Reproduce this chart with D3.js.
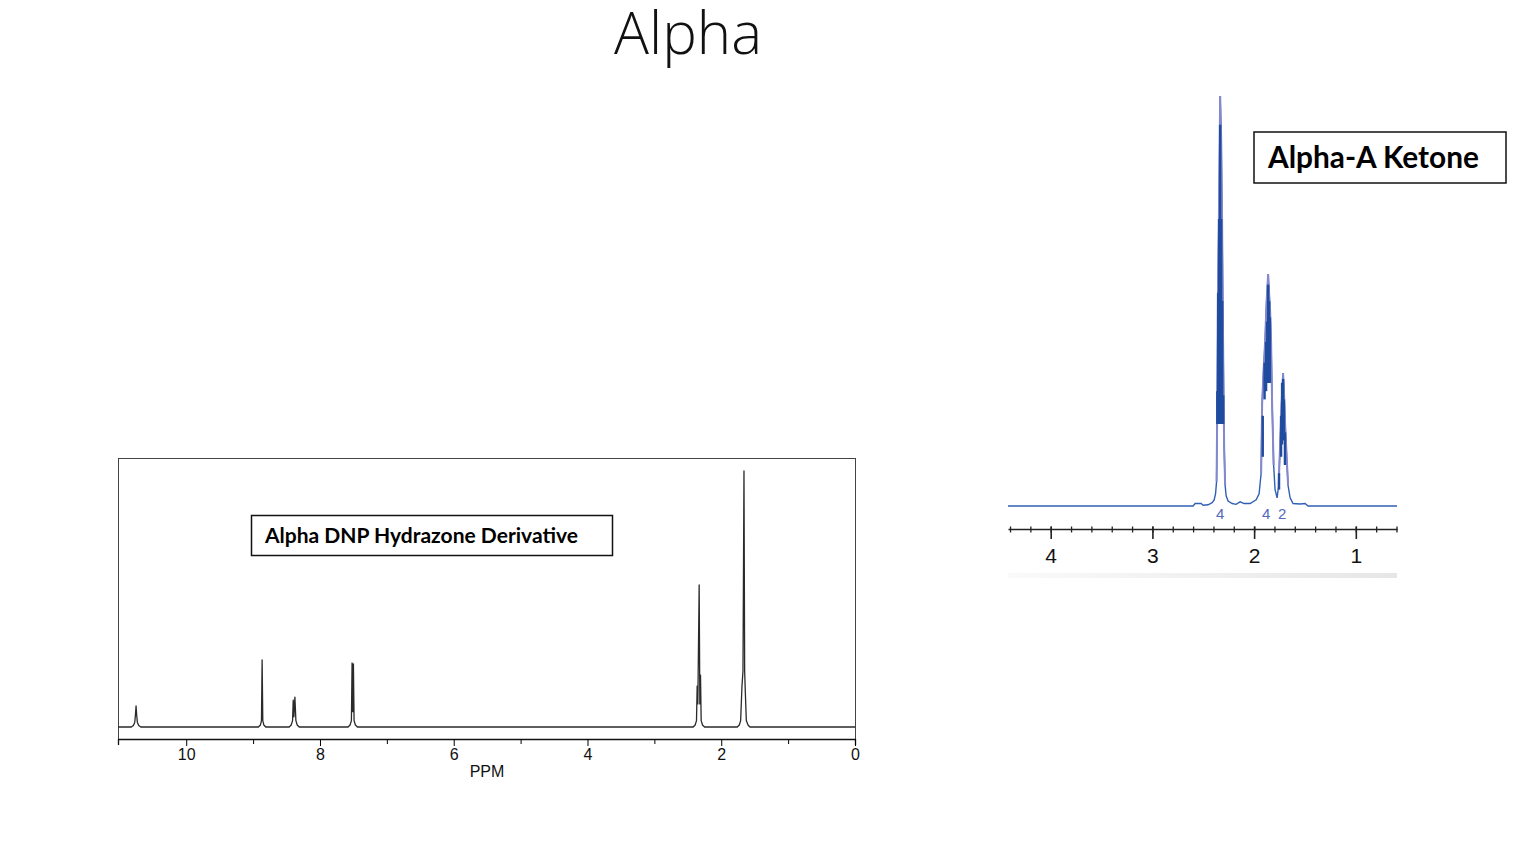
<!DOCTYPE html>
<html>
<head>
<meta charset="utf-8">
<script src="https://d3js.org/d3.v7.min.js"></script>
<style>
    body { margin: 0; background: #fff; }
    svg { display: block; }
    .num { font-family: "Liberation Sans", Arial, sans-serif; }
    .lbl { font-family: Lato, "Open Sans", sans-serif; font-weight: 700; }
</style>
</head>
<body>
<script>
    // ---- left spectrum: DNP hydrazone derivative, [ppm, relative intensity] ----
    const dnpTrace = [
        [11.02, 0],
        [10.82, 0], [10.79, 0.6], [10.77, 1.8], [10.76, 4.5], [10.75, 8.2], [10.74, 4.5], [10.73, 1.8], [10.71, 0.6], [10.68, 0],
        [8.92, 0], [8.89, 0.8], [8.875, 2.5], [8.865, 26.2], [8.855, 2.5], [8.84, 0.8], [8.81, 0],
        [8.46, 0], [8.43, 0.8], [8.41, 2.5], [8.40, 10.5], [8.39, 4], [8.375, 11.7], [8.36, 2.5], [8.34, 0.8], [8.31, 0],
        [7.58, 0], [7.55, 0.8], [7.53, 2.5], [7.52, 25], [7.51, 6], [7.50, 24.6], [7.49, 2.5], [7.47, 0.8], [7.44, 0],
        [2.42, 0], [2.39, 0.8], [2.37, 2.5], [2.36, 16], [2.35, 9], [2.33, 55.5], [2.32, 9], [2.31, 20.3], [2.30, 2.5], [2.28, 0.8], [2.25, 0],
        [1.76, 0], [1.73, 0.8], [1.71, 2.5], [1.69, 16], [1.675, 21.9], [1.66, 100], [1.65, 21.9], [1.64, 13.7], [1.625, 2.5], [1.60, 0.8], [1.57, 0],
        [0, 0]
    ]
    const dnpMajorTicks = [10, 8, 6, 4, 2, 0]
    const dnpMinorTicks = [9, 7, 5, 3, 1]

    // ---- right spectrum: alpha-A ketone, [ppm, relative intensity] ----
    const ketoneTrace = [
        [4.42, 0], [2.60, 0], [2.58, 0.6], [2.521, 0.6], [2.501, 0.2], [2.452, 0.3], [2.413, 0.8], [2.393, 1.5],
        [2.379, 3], [2.369, 6], [2.364, 20], [2.354, 55], [2.344, 75], [2.334, 100], [2.324, 90], [2.315, 70],
        [2.305, 40], [2.295, 15], [2.285, 5], [2.275, 2.5], [2.256, 1.2], [2.216, 0.6], [2.177, 0.4], [2.138, 1],
        [2.098, 0.6], [2.039, 0.6], [1.980, 1.5], [1.951, 3], [1.931, 8], [1.921, 25], [1.907, 33], [1.892, 40],
        [1.877, 50], [1.862, 56.6], [1.853, 52], [1.843, 48], [1.833, 40], [1.823, 25], [1.808, 10], [1.794, 4],
        [1.774, 2], [1.759, 5], [1.744, 15], [1.730, 25], [1.715, 32.4], [1.705, 27], [1.695, 20], [1.680, 12],
        [1.666, 5], [1.646, 2], [1.617, 0.6], [1.548, 0.5], [1.499, 0.6], [1.469, 0], [0.595, 0]
    ]
    // multiplet lines inside the envelopes: [ppm, low, high]
    const ketoneLines = [
        [2.334, 20, 93], [2.344, 20, 70], [2.324, 20, 70], [2.354, 20, 52], [2.314, 20, 50], [2.362, 20, 28], [2.304, 20, 27],
        [1.862, 30, 54], [1.853, 30, 50], [1.845, 30, 46], [1.872, 32, 45], [1.882, 28, 40], [1.897, 26, 35], [1.915, 12, 22],
        [1.725, 15, 30], [1.715, 16, 31], [1.707, 18, 26], [1.735, 12, 22], [1.697, 10, 18], [1.755, 4, 8]
    ]
    const ketoneMajorTicks = [4, 3, 2, 1]
    const ketoneMinorTicks = d3.range(6, 45, 2).map(d => d / 10)
    const integralPpm = [2.334, 1.882, 1.725]
    const integralText = ['4', '4', '2']

    const W = 1532, H = 848

    const svg = d3.select('body').append('svg')
        .attr('width', W)
        .attr('height', H)

    function fitText(sel, width) {
        const w = sel.node().getComputedTextLength()
        const fs = parseFloat(sel.style('font-size'))
        sel.style('font-size', (fs * width / w) + 'px')
    }

    // title
    const title = svg.append('text')
        .attr('x', 614)
        .attr('y', 54)
        .style('font-family', '"Open Sans", Lato, sans-serif')
        .style('font-weight', 300)
        .style('font-size', '58px')
        .style('fill', '#111')
        .text('Alpha')
    fitText(title, 148)

    // ================= left chart =================
    const xL = d3.scaleLinear().domain([11.02, 0]).range([118, 855])
    const yL = d3.scaleLinear().domain([0, 100]).range([727, 471])
    const axisYL = 739

    svg.append('rect')
        .attr('x', 118.5)
        .attr('y', 458.5)
        .attr('width', 737)
        .attr('height', axisYL - 458)
        .attr('fill', 'none')
        .attr('stroke', '#444')
        .attr('stroke-width', 1)

    svg.append('g')
        .attr('class', 'num')
        .attr('transform', 'translate(0,' + axisYL + ')')
        .call(d3.axisBottom(xL).tickValues(dnpMinorTicks).tickSize(5).tickSizeOuter(0).tickFormat(''))
        .call(g => g.select('.domain').remove())

    const axL = svg.append('g')
        .attr('class', 'num')
        .attr('transform', 'translate(0,' + axisYL + ')')
        .call(d3.axisBottom(xL).tickValues(dnpMajorTicks).tickSize(7).tickSizeOuter(6).tickPadding(3).tickFormat(d3.format('d')))
    axL.selectAll('text').style('font-size', '16px').style('fill', '#111')
    axL.select('.domain').attr('stroke', '#111').attr('stroke-width', 1.3)

    svg.append('text')
        .attr('class', 'num')
        .attr('x', 487)
        .attr('y', 777)
        .attr('text-anchor', 'middle')
        .style('font-size', '16px')
        .style('fill', '#111')
        .text('PPM')

    svg.append('path')
        .datum(dnpTrace)
        .attr('fill', 'none')
        .attr('stroke', '#2a2a2a')
        .attr('stroke-width', 1.3)
        .attr('stroke-linejoin', 'round')
        .attr('d', d3.line().x(d => xL(d[0])).y(d => yL(d[1])))

    svg.append('rect')
        .attr('x', 251.5).attr('y', 515.5)
        .attr('width', 361).attr('height', 40)
        .attr('fill', '#fff').attr('stroke', '#111').attr('stroke-width', 1.5)
    const lblL = svg.append('text')
        .attr('class', 'lbl')
        .attr('x', 265)
        .attr('y', 543)
        .style('font-size', '19px')
        .text('Alpha DNP Hydrazone Derivative')
    fitText(lblL, 313)

    // ================= right chart =================
    const xR = d3.scaleLinear().domain([4.42, 0.595]).range([1008, 1397])
    const yR = d3.scaleLinear().domain([0, 100]).range([506, 96])
    const axisYR = 529

    const grad = svg.append('defs').append('linearGradient').attr('id', 'fade')
    grad.append('stop').attr('offset', '0%').attr('stop-color', '#fafafa')
    grad.append('stop').attr('offset', '100%').attr('stop-color', '#e6e6e6')
    svg.append('rect')
        .attr('x', 1008).attr('y', 573)
        .attr('width', 389).attr('height', 5)
        .attr('fill', 'url(#fade)')

    const lineR = d3.line().x(d => xR(d[0])).y(d => yR(d[1]))

    svg.append('path')
        .datum(ketoneTrace)
        .attr('fill', 'none')
        .attr('stroke', '#3060b4')
        .attr('stroke-width', 1.4)
        .attr('d', lineR)

    svg.append('path')
        .datum(ketoneTrace)
        .attr('fill', 'none')
        .attr('stroke', '#8488cc')
        .attr('stroke-width', 2)
        .attr('d', lineR.defined(d => d[1] > 4))

    svg.selectAll('.mult')
        .data(ketoneLines)
        .enter()
        .append('line')
        .attr('class', 'mult')
        .attr('x1', d => xR(d[0]))
        .attr('x2', d => xR(d[0]))
        .attr('y1', d => yR(d[1]))
        .attr('y2', d => yR(d[2]))
        .attr('stroke', '#1f4c9f')
        .attr('stroke-width', 2.4)

    svg.selectAll('.integral')
        .data(integralPpm)
        .enter()
        .append('text')
        .attr('class', 'num integral')
        .attr('x', d => xR(d))
        .attr('y', 519)
        .attr('text-anchor', 'middle')
        .style('font-size', '15px')
        .style('fill', '#5468bd')
        .text((d, i) => integralText[i])

    const minR = svg.append('g')
        .attr('transform', 'translate(0,' + axisYR + ')')
        .call(d3.axisBottom(xR).tickValues(ketoneMinorTicks).tickSize(3.5).tickSizeOuter(0).tickFormat(''))
    minR.selectAll('.tick line').attr('y1', -2.5).attr('stroke', '#222').attr('stroke-width', 1.3)
    minR.select('.domain').attr('stroke', '#222').attr('stroke-width', 1.5)

    const axR = svg.append('g')
        .attr('class', 'num')
        .attr('transform', 'translate(0,' + axisYR + ')')
        .call(d3.axisBottom(xR).tickValues(ketoneMajorTicks).tickSize(10).tickSizeOuter(0).tickPadding(9).tickFormat(d3.format('d')))
    axR.select('.domain').remove()
    axR.selectAll('.tick line').attr('y1', -2.5).attr('stroke', '#222').attr('stroke-width', 1.6)
    axR.selectAll('text').style('font-size', '21px').style('fill', '#111')

    svg.append('rect')
        .attr('x', 1254).attr('y', 132)
        .attr('width', 252).attr('height', 51)
        .attr('fill', '#fff').attr('stroke', '#111').attr('stroke-width', 1.5)
    const lblR = svg.append('text')
        .attr('class', 'lbl')
        .attr('x', 1268)
        .attr('y', 168)
        .style('font-size', '27px')
        .text('Alpha-A Ketone')
    fitText(lblR, 211)
</script>
</body>
</html>
